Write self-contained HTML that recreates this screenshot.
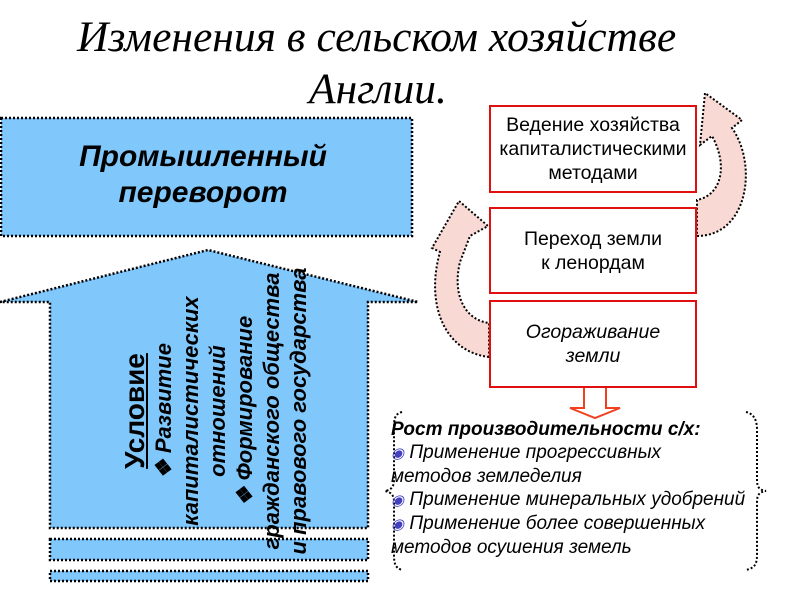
<!DOCTYPE html>
<html><head><meta charset="utf-8"><style>
body{margin:0;width:800px;height:600px;background:#fff;position:relative;overflow:hidden;font-family:"Liberation Sans",sans-serif}
.t{position:absolute;font-family:"Liberation Serif",serif;font-style:italic;font-size:43.5px;white-space:nowrap;color:#000}
.box{position:absolute;border:2px solid #e01010;box-sizing:border-box;display:flex;align-items:center;justify-content:center;text-align:center;font-size:19.5px;line-height:24px;background:#fff}
</style></head><body>
<div class="t" style="left:77px;top:12px">Изменения в сельском хозяйстве</div>
<div class="t" style="left:309px;top:64px">Англии.</div>
<svg width="800" height="600" style="position:absolute;left:0;top:0">
<g stroke="#000" stroke-width="2.5" stroke-dasharray="2,2" fill="#80c8fc">
<rect x="1" y="118" width="411" height="118"/>
<path d="M0,302 L208,250 L418,302 L368,302 L368,528 L50,528 L50,302 Z"/>
<rect x="50" y="539" width="318" height="21"/>
<rect x="50" y="571" width="318" height="10"/>
</g>
<g stroke="#000" stroke-width="2" stroke-dasharray="2,2" fill="#f9d9d4">
<path d="M489,357 C445,352 425,305 440,252 L432,248 L459,201 L488,226 L470,236 L460,262 C452,295 465,320 489,323 Z"/>
<path d="M697,236 C748,236 758,165 732,128 L742,120 L705,93 L700,145 L712,136 C728,165 722,195 697,200 Z"/>
</g>
<path d="M584,388 L584,408 L570,408 L595,418 L620,408 L606,408 L606,388" fill="#fff" stroke="#f04020" stroke-width="2"/>
<g stroke="#000" stroke-width="2" stroke-dasharray="2,2" fill="none">
<path d="M402,412 C394,414 394,420 394,430 L394,480 C394,488 390,490 385,491 C390,492 394,494 394,502 L394,555 C394,565 396,568 402,570"/>
<path d="M746,412 C754,414 757,420 757,430 L757,480 C757,488 760,490 766,491 C760,492 757,494 757,502 L757,555 C757,565 754,568 746,570"/>
</g>
</svg>
<div style="position:absolute;left:0;top:139px;width:406px;text-align:center;font-weight:bold;font-style:italic;font-size:30px;line-height:36px">Промышленный<br>переворот</div>
<div style="position:absolute;left:65px;top:316px;width:300px;height:190px;transform:rotate(-90deg);text-align:center;font-weight:bold;font-style:italic;font-size:22px;line-height:27px;white-space:nowrap">
<div style="font-size:28px;text-decoration:underline;font-style:normal;line-height:30px">Условие</div>
<div>❖ Развитие</div>
<div>капиталистических</div>
<div>отношений</div>
<div>❖ Формирование</div>
<div>гражданского общества</div>
<div>и правового государства</div>
</div>
<div class="box" style="left:489px;top:105px;width:208px;height:88px">Ведение хозяйства<br>капиталистическими<br>методами</div>
<div class="box" style="left:489px;top:207px;width:208px;height:87px">Переход земли<br>к ленордам</div>
<div class="box" style="left:489px;top:300px;width:208px;height:88px;font-style:italic">Огораживание<br>земли</div>
<div style="position:absolute;left:391px;top:418px;font-style:italic;font-size:19px;line-height:23px;white-space:nowrap">
<b>Рост производительности с/х:</b><br>
<span style="color:#4040c0;font-size:15px">◉</span> Применение прогрессивных<br>
методов земледелия<br>
<span style="color:#4040c0;font-size:15px">◉</span> Применение минеральных удобрений<br>
<span style="color:#4040c0;font-size:15px">◉</span> Применение более совершенных<br>
методов осушения земель</div>
</body></html>
